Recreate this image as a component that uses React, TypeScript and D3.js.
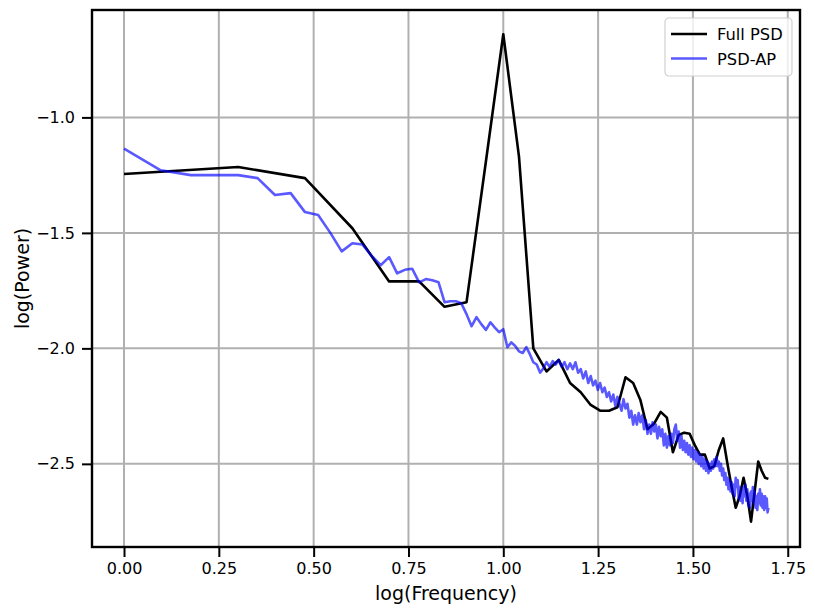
import * as d3 from 'd3';
import React, { useEffect, useRef } from 'react';

// Full PSD, one value per integer frequency (1..50 Hz)
const fullFreqs = d3.range(1, 51);
const fullPower = [
  -1.245, -1.215, -1.263, -1.48, -1.71, -1.71, -1.82, -1.8, -1.19, -0.64,
  -1.17, -2.0, -2.1, -2.05, -2.15, -2.19, -2.245, -2.27, -2.27, -2.255,
  -2.125, -2.15, -2.225, -2.35, -2.325, -2.275, -2.3, -2.45, -2.375, -2.365,
  -2.37, -2.42, -2.46, -2.46, -2.52, -2.51, -2.44, -2.39, -2.5, -2.6,
  -2.69, -2.64, -2.56, -2.64, -2.75, -2.62, -2.49, -2.53, -2.56, -2.565,
];

// PSD-AP, 0.25 Hz resolution (1..50 Hz)
const apFreqs = d3.range(1, 50.001, 0.25);
const apPower = [
  -1.135, -1.229, -1.25, -1.25,
  -1.25, -1.263, -1.336, -1.328,
  -1.41, -1.423, -1.5, -1.58,
  -1.545, -1.55, -1.6, -1.64,
  -1.605, -1.675, -1.66, -1.655,
  -1.714, -1.7, -1.705, -1.714,
  -1.8, -1.796, -1.796, -1.805,
  -1.852, -1.904, -1.865, -1.895,
  -1.92, -1.887, -1.91, -1.93,
  -1.917, -1.995, -1.974, -1.99,
  -2.013, -2.02, -1.995, -2.025,
  -2.06, -2.07, -2.105, -2.087,
  -2.06, -2.08, -2.055, -2.07,
  -2.05, -2.08, -2.06, -2.09,
  -2.065, -2.09, -2.06, -2.105,
  -2.09, -2.13, -2.1, -2.15,
  -2.12, -2.16, -2.14, -2.18,
  -2.15, -2.19, -2.17, -2.21,
  -2.19, -2.23, -2.2, -2.25,
  -2.21, -2.24, -2.27, -2.22,
  -2.26, -2.24, -2.3, -2.27,
  -2.33, -2.29, -2.33, -2.28,
  -2.32, -2.29, -2.35, -2.31,
  -2.37, -2.33, -2.37, -2.32,
  -2.36, -2.33, -2.39, -2.34,
  -2.38, -2.35, -2.42, -2.37,
  -2.43, -2.38, -2.42, -2.37,
  -2.41, -2.35, -2.33, -2.4,
  -2.36, -2.43, -2.38, -2.44,
  -2.4, -2.45, -2.41, -2.46,
  -2.42, -2.47, -2.43, -2.48,
  -2.44, -2.49, -2.45, -2.5,
  -2.46, -2.51, -2.47, -2.52,
  -2.48, -2.53, -2.49, -2.54,
  -2.5, -2.53, -2.49, -2.52,
  -2.48, -2.51, -2.47, -2.51,
  -2.49, -2.53, -2.5, -2.55,
  -2.52, -2.57, -2.54, -2.59,
  -2.56, -2.61, -2.57, -2.62,
  -2.58, -2.63, -2.59, -2.64,
  -2.56, -2.6, -2.57, -2.65,
  -2.6, -2.66, -2.62, -2.67,
  -2.6, -2.64, -2.59, -2.66,
  -2.61, -2.68, -2.63, -2.69,
  -2.62, -2.66, -2.6, -2.67,
  -2.62, -2.69, -2.64, -2.7,
  -2.63, -2.67, -2.61, -2.68,
  -2.63, -2.69, -2.64, -2.7,
  -2.64, -2.69, -2.65, -2.71,
  -2.69,
];

const xTicks = [0, 0.25, 0.5, 0.75, 1.0, 1.25, 1.5, 1.75];
const yTicks = [-1.0, -1.5, -2.0, -2.5];

const series = [
  { name: 'Full PSD', freqs: fullFreqs, power: fullPower, color: '#000000', opacity: 1 },
  { name: 'PSD-AP', freqs: apFreqs, power: apPower, color: '#0000ff', opacity: 0.65 },
];

const FONT = '"DejaVu Sans", sans-serif';

const App: React.FC = () => {
  const svgRef = useRef<SVGSVGElement>(null);

  useEffect(() => {
    if (!svgRef.current) return;
    const width = 815;
    const height = 616;
    const margin = { top: 10, right: 15, bottom: 69, left: 92 };
    const innerWidth = width - margin.left - margin.right;
    const innerHeight = height - margin.top - margin.bottom;

    const svg = d3.select(svgRef.current);
    svg.selectAll('*').remove();
    svg.attr('width', width).attr('height', height);

    const x = d3.scaleLinear().domain([-0.0844, 1.7823]).range([0, innerWidth]);
    const y = d3.scaleLinear().domain([-2.86, -0.535]).range([innerHeight, 0]);

    const g = svg.append('g').attr('transform', `translate(${margin.left},${margin.top})`);

    // Grid
    g.append('g')
      .selectAll('line')
      .data(xTicks)
      .join('line')
      .attr('x1', d => x(d)).attr('x2', d => x(d))
      .attr('y1', 0).attr('y2', innerHeight)
      .attr('stroke', '#b0b0b0').attr('stroke-width', 2);
    g.append('g')
      .selectAll('line')
      .data(yTicks)
      .join('line')
      .attr('y1', d => y(d)).attr('y2', d => y(d))
      .attr('x1', 0).attr('x2', innerWidth)
      .attr('stroke', '#b0b0b0').attr('stroke-width', 2);

    // Lines
    series.forEach(s => {
      const line = d3.line<number>()
        .x((_, i) => x(Math.log10(s.freqs[i])))
        .y(d => y(d));
      g.append('path')
        .datum(s.power)
        .attr('d', line)
        .attr('fill', 'none')
        .attr('stroke', s.color)
        .attr('stroke-opacity', s.opacity)
        .attr('stroke-width', 2.6)
        .attr('stroke-linejoin', 'round');
    });

    // Axes
    const xAxis = g.append('g')
      .attr('transform', `translate(0,${innerHeight})`)
      .call(d3.axisBottom(x).tickValues(xTicks).tickFormat(d3.format('.2f')).tickSize(10).tickPadding(6));
    const yAxis = g.append('g')
      .call(d3.axisLeft(y).tickValues(yTicks).tickFormat(d => d3.format('.1f')(Number(d)).replace('-', '\u2212')).tickSize(10).tickPadding(7));
    [xAxis, yAxis].forEach(a => {
      a.select('.domain').remove();
      a.selectAll('line').attr('stroke', '#000').attr('stroke-width', 2);
      a.selectAll('text').attr('fill', '#000').style('font-family', FONT).style('font-size', '16px');
    });

    // Frame
    g.append('rect')
      .attr('width', innerWidth).attr('height', innerHeight)
      .attr('fill', 'none').attr('stroke', '#000').attr('stroke-width', 2.4);

    // Axis labels
    svg.append('text')
      .attr('x', margin.left + innerWidth / 2).attr('y', 600)
      .attr('text-anchor', 'middle')
      .style('font-family', FONT).style('font-size', '19px')
      .text('log(Frequency)');
    svg.append('text')
      .attr('transform', `translate(28.5,${margin.top + innerHeight / 2}) rotate(-90)`)
      .attr('text-anchor', 'middle')
      .style('font-family', FONT).style('font-size', '19px')
      .text('log(Power)');

    // Legend
    const legend = svg.append('g').attr('transform', 'translate(665,18)');
    legend.append('rect')
      .attr('width', 127).attr('height', 58).attr('rx', 4)
      .attr('fill', '#fff').attr('fill-opacity', 0.8)
      .attr('stroke', '#d0d0d0').attr('stroke-width', 1.2);
    series.forEach((s, i) => {
      const row = legend.append('g').attr('transform', `translate(0,${16 + i * 24.5})`);
      row.append('line')
        .attr('x1', 6).attr('x2', 42)
        .attr('stroke', s.color).attr('stroke-opacity', s.opacity).attr('stroke-width', 2.6);
      row.append('text')
        .attr('x', 52).attr('y', 6)
        .style('font-family', FONT).style('font-size', '16.3px')
        .text(s.name);
    });
  }, []);

  return (
    <div style={{ position: 'absolute', left: 0, top: 0 }}>
      <svg ref={svgRef} />
    </div>
  );
};

export default App;
